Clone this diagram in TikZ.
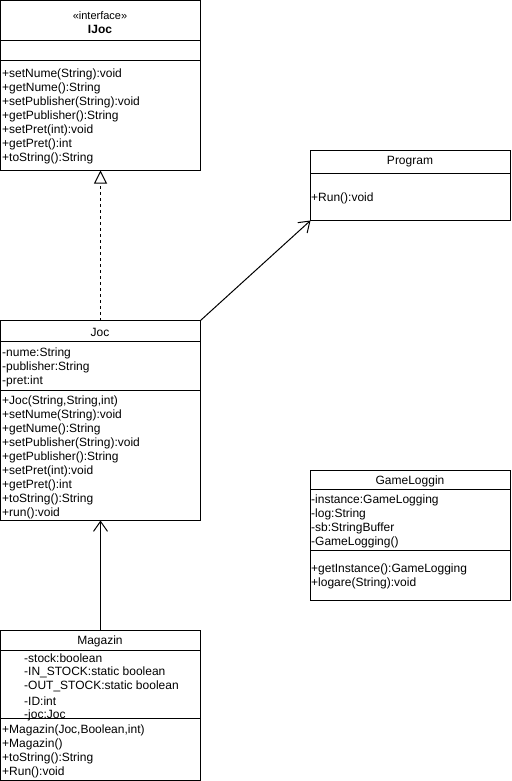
\documentclass[tikz,border=0pt]{standalone}
\usepackage{fontspec}
\setmainfont{Liberation Sans}
\usetikzlibrary{arrows.meta}
\begin{document}
\begin{tikzpicture}[x=1pt,y=-1pt,
  box/.style={draw, line width=1pt, inner sep=0pt, outer sep=0pt, anchor=north west, minimum width=200pt},
  txt/.style={anchor=west, inner sep=0pt, yshift=-1pt, font=\fontsize{12}{14}\selectfont},
  ttl/.style={anchor=center, inner sep=0pt, yshift=-1pt, font=\fontsize{12}{14}\selectfont},
  sep/.style={line width=1pt},
  conn/.style={line width=1pt},
  opentip/.style={-{Straight Barb[length=10pt,width=14pt,line width=1pt]}},
  realize/.style={dash pattern=on 3pt off 3pt, -{Triangle[open,length=13pt,width=13pt,line width=1pt,fill=white]}}
]
\useasboundingbox (0,0) rectangle (511,781);

% IJoc
\node[box, minimum height=170pt] (ijoc) at (0.5,0.5) {};
\draw[sep] ([yshift=-40pt]ijoc.north west) -- ([yshift=-40pt]ijoc.north east);
\draw[sep] ([yshift=-60pt]ijoc.north west) -- ([yshift=-60pt]ijoc.north east);
\node[ttl, font=\fontsize{11}{13}\selectfont] (ijocst) at (100,15) {«interface»};
\node[ttl, font=\bfseries\fontsize{12}{14}\selectfont] (ijoct) at (100,28) {IJoc};
\node[txt] (ij1) at (2,73) {+setNume(String):void};
\node[txt] (ij2) at (2,87) {+getNume():String};
\node[txt] (ij3) at (2,101) {+setPublisher(String):void};
\node[txt] (ij4) at (2,115) {+getPublisher():String};
\node[txt] (ij5) at (2,129) {+setPret(int):void};
\node[txt] (ij6) at (2,143) {+getPret():int};
\node[txt] (ij7) at (2,157) {+toString():String};

% Program
\node[box, minimum height=70pt] (program) at (310.5,150.5) {};
\draw[sep] ([yshift=-23pt]program.north west) -- ([yshift=-23pt]program.north east);
\node[ttl] (progt) at (410,161) {Program};
\node[txt] (pr1) at (311,197) {+Run():void};

% Joc
\node[box, minimum height=200pt] (joc) at (0.5,320.5) {};
\draw[sep] ([yshift=-21pt]joc.north west) -- ([yshift=-21pt]joc.north east);
\node[ttl] (joct) at (100,331) {Joc};
\draw[sep] ([yshift=-70pt]joc.north west) -- ([yshift=-70pt]joc.north east);
\node[txt] (ja1) at (2,352) {-nume:String};
\node[txt] (ja2) at (2,366) {-publisher:String};
\node[txt] (ja3) at (2,380) {-pret:int};
\node[txt] (jm1) at (2,400) {+Joc(String,String,int)};
\node[txt] (jm2) at (2,414) {+setNume(String):void};
\node[txt] (jm3) at (2,428) {+getNume():String};
\node[txt] (jm4) at (2,442) {+setPublisher(String):void};
\node[txt] (jm5) at (2,456) {+getPublisher():String};
\node[txt] (jm6) at (2,470) {+setPret(int):void};
\node[txt] (jm7) at (2,484) {+getPret():int};
\node[txt] (jm8) at (2,498) {+toString():String};
\node[txt] (jm9) at (2,512) {+run():void};

% GameLoggin
\node[box, minimum height=130pt] (game) at (310.5,470.5) {};
\draw[sep] ([yshift=-19pt]game.north west) -- ([yshift=-19pt]game.north east);
\draw[sep] ([yshift=-80pt]game.north west) -- ([yshift=-80pt]game.north east);
\node[ttl] (gamet) at (410,480) {GameLoggin};
\node[txt] (ga1) at (311,499) {-instance:GameLogging};
\node[txt] (ga2) at (311,513) {-log:String};
\node[txt] (ga3) at (311,527) {-sb:StringBuffer};
\node[txt] (ga4) at (311,541) {-GameLogging()};
\node[txt] (gm1) at (311,568) {+getInstance():GameLogging};
\node[txt] (gm2) at (311,582) {+logare(String):void};

% Magazin
\node[box, minimum height=150pt] (magazin) at (0.5,630.5) {};
\draw[sep] ([yshift=-20pt]magazin.north west) -- ([yshift=-20pt]magazin.north east);
\draw[sep] ([yshift=-88pt]magazin.north west) -- ([yshift=-88pt]magazin.north east);
\node[ttl] (magt) at (100,640) {Magazin};
\node[txt] (ma1) at (24,657) {-stock:boolean};
\node[txt] (ma2) at (24,671) {-IN\_STOCK:static boolean};
\node[txt] (ma3) at (24,685.5) {-OUT\_STOCK:static boolean};
\node[txt] (ma4) at (24,700) {-ID:int};
\node[txt] (ma5) at (24,714) {-joc:Joc};
\node[txt] (mm1) at (2,729) {+Magazin(Joc,Boolean,int)};
\node[txt] (mm2) at (2,743) {+Magazin()};
\node[txt] (mm3) at (2,757) {+toString():String};
\node[txt] (mm4) at (2,771) {+Run():void};

% connectors
\draw[conn, realize] (joc.north) -- (ijoc.south);
\draw[conn, opentip] (joc.north east) -- (program.south west);
\draw[conn, opentip] (magazin.north) -- (joc.south);
\end{tikzpicture}
\end{document}
